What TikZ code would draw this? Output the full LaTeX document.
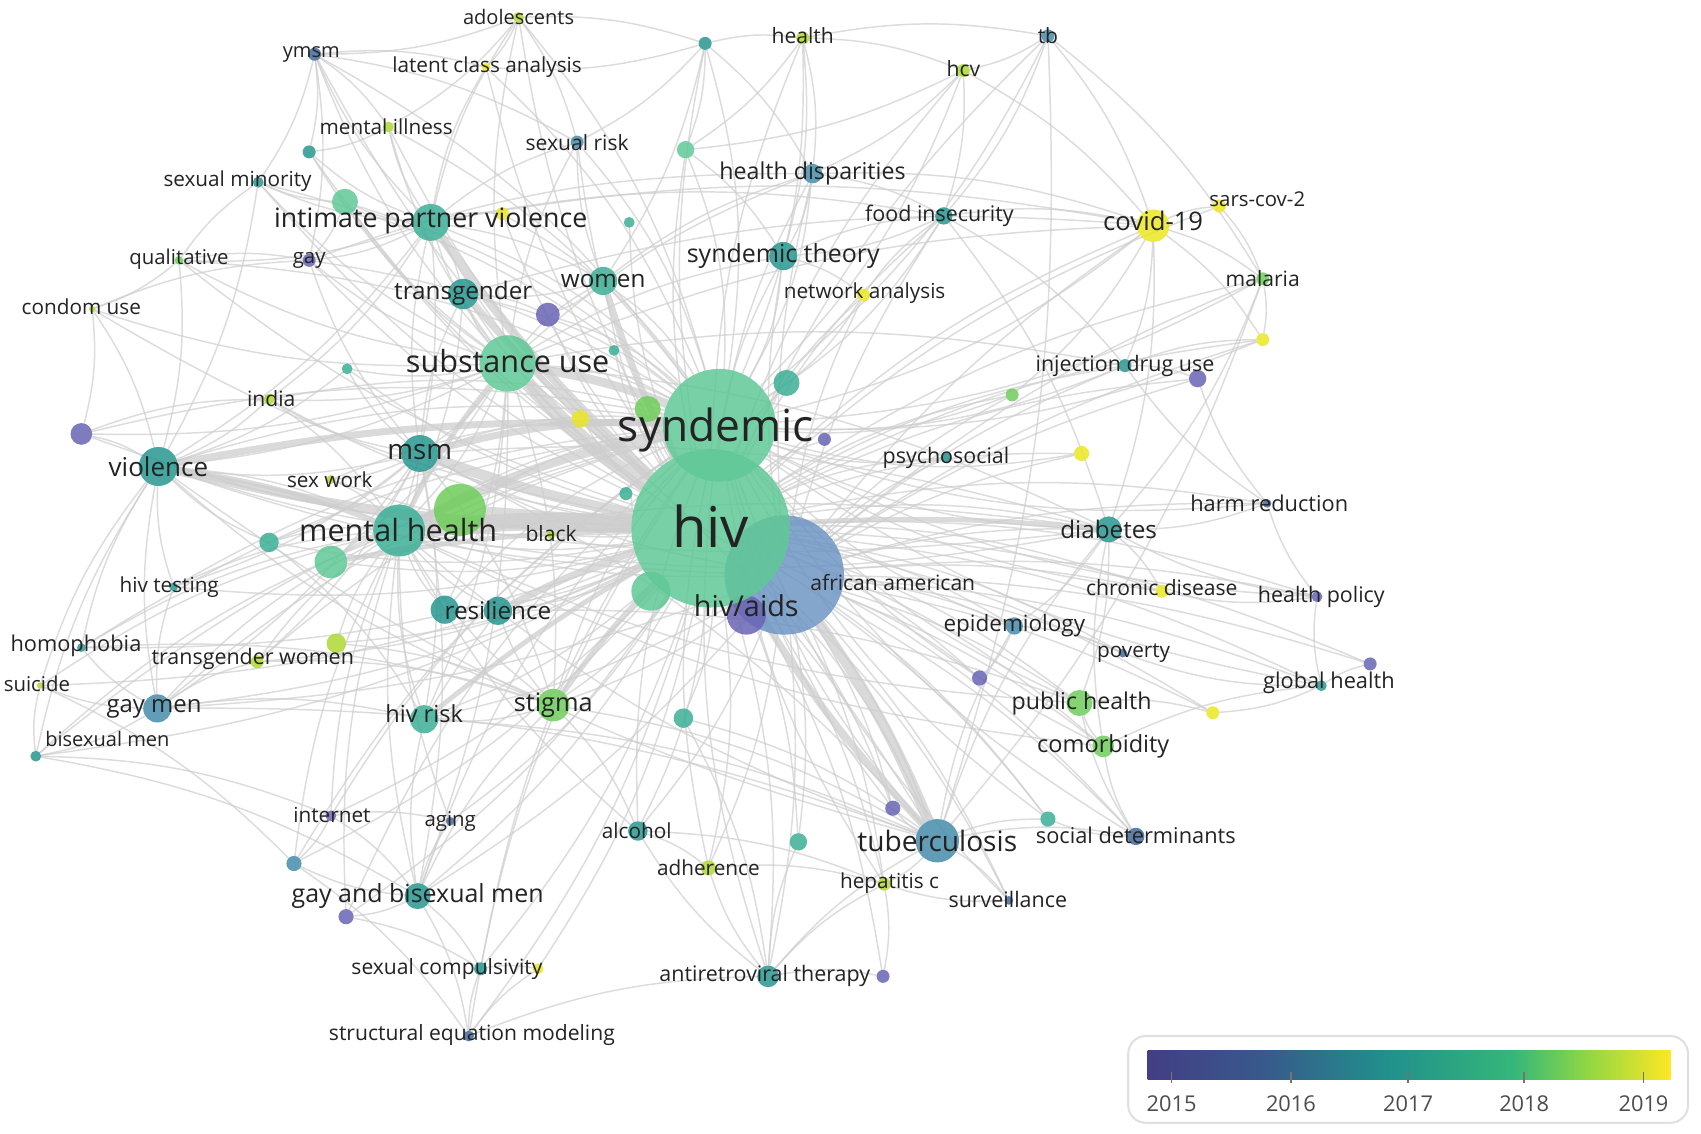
\documentclass[tikz,border=0pt]{standalone}
\usepackage{fontspec}
\setmainfont{Open Sans}
\usetikzlibrary{backgrounds}
\definecolor{yA}{RGB}{105,100,180}
\definecolor{yB}{RGB}{65,105,155}
\definecolor{yC}{RGB}{70,140,170}
\definecolor{yD}{RGB}{40,150,145}
\definecolor{yE}{RGB}{60,175,150}
\definecolor{yF}{RGB}{95,200,150}
\definecolor{yG}{RGB}{110,205,90}
\definecolor{yH}{RGB}{175,215,50}
\definecolor{yI}{RGB}{235,230,35}
\definecolor{hivblue}{RGB}{110,150,195}
\definecolor{edgec}{RGB}{205,205,205}
\definecolor{txt}{RGB}{35,35,35}
\definecolor{v1}{HTML}{433E85}
\definecolor{v2}{HTML}{38598C}
\definecolor{v3}{HTML}{21918C}
\definecolor{v4}{HTML}{35B779}
\definecolor{v5}{HTML}{90D743}
\definecolor{v6}{HTML}{FDE725}
\pgfdeclarehorizontalshading{viridisbar}{100bp}{color(0bp)=(v1); color(25bp)=(v1); color(36bp)=(v2); color(48bp)=(v3); color(60bp)=(v4); color(67bp)=(v5); color(75bp)=(v6); color(100bp)=(v6)}
\newcommand\kw[5]{\node[bub, fill=#5, minimum size=#4*0.21696mm] (#1) at (#2,#3) {};}
\newcommand\kl[5]{\node[lab, font=\fontsize{#5}{#5}\selectfont] (t#1) at (#2,#3) {#4};}
\tikzset{
  bub/.style={circle, inner sep=0pt, outer sep=0pt, fill opacity=0.85, draw=none},
  lab/.style={inner sep=0pt, text=txt},
  edge/.style={draw=edgec, line width=0.42pt, opacity=0.7},
  bundle/.style={draw=edgec, opacity=0.75},
  yr/.style={font=\fontsize{6.2}{6.2}\selectfont, text=black!70, inner sep=0pt}
}
\begin{document}
\begin{tikzpicture}[x=0.010848cm, y=-0.010848cm]
\useasboundingbox (0,0) rectangle (1568,1045);
% ---------- keyword circles ----------
\kw{adol}{478}{16}{5}{yH}
\kw{youth}{290}{50}{6}{yB}
\kw{lca}{448}{62}{4}{yI}
\kw{n4}{650}{40}{6}{yD}
\kw{health}{740}{35}{6}{yH}
\kw{tb}{966}{33}{6}{yC}
\kw{hcv}{888}{65}{6}{yH}
\kw{mill}{358}{117}{5}{yH}
\kw{n9}{285}{140}{6}{yD}
\kw{srisk}{532}{131}{6}{yC}
\kw{n11}{632}{138}{8}{yF}
\kw{smin}{238}{168}{5}{yD}
\kw{hdisp}{749}{160}{9}{yC}
\kw{n14}{318}{186}{12}{yF}
\kw{ipv}{397}{205}{17}{yE}
\kw{n16}{463}{197}{6}{yI}
\kw{n17}{580}{205}{5}{yE}
\kw{food}{870}{199}{8}{yD}
\kw{covid}{1063}{208}{15}{yI}
\kw{sars}{1124}{190}{6}{yI}
\kw{qual}{165}{240}{4}{yG}
\kw{gay}{285}{240}{6}{yA}
\kw{sth}{722}{236}{13}{yD}
\kw{malaria}{1164}{257}{6}{yG}
\kw{condom}{85}{285}{3}{yH}
\kw{trans}{427}{271}{14}{yD}
\kw{women}{556}{259}{13}{yE}
\kw{n28}{505}{290}{11}{yA}
\kw{netan}{796}{272}{6}{yI}
\kw{n30}{1164}{313}{6}{yI}
\kw{subst}{468}{335}{26}{yF}
\kw{n32}{566}{323}{5}{yE}
\kw{n33}{320}{340}{5}{yE}
\kw{idu}{1037}{337}{6}{yD}
\kw{n35}{1104}{349}{8}{yA}
\kw{india}{248}{368}{5}{yH}
\kw{n37}{725}{353}{12}{yE}
\kw{n38}{933}{364}{6}{yG}
\kw{n43}{535}{386}{8}{yI}
\kw{n44}{597}{377}{12}{yG}
\kw{n45}{760}{405}{6}{yA}
\kw{hivaids}{723}{530}{55}{hivblue}
\kw{hapurp}{688}{567}{18}{yA}
\kw{n42}{600}{545}{18}{yF}
\kw{synd}{663}{392}{52}{yF}
\kw{hiv}{655}{487}{73}{yF}
\kw{viol}{146}{430}{18}{yD}
\kw{n47}{75}{400}{10}{yA}
\kw{msm}{387}{418}{17}{yD}
\kw{sexwork}{305}{442}{4}{yH}
\kw{psych}{872}{422}{5}{yD}
\kw{n51}{997}{418}{7}{yI}
\kw{n52}{577}{455}{6}{yE}
\kw{n54}{424}{470}{24}{yG}
\kw{mh}{368}{489}{24}{yE}
\kw{black}{508}{493}{4}{yH}
\kw{diab}{1022}{488}{12}{yD}
\kw{harm}{1168}{464}{4}{yB}
\kw{n58}{248}{500}{9}{yE}
\kw{n59}{305}{518}{15}{yF}
\kw{hivtest}{160}{541}{4}{yD}
\kw{chronic}{1071}{545}{6}{yI}
\kw{hpol}{1214}{550}{5}{yA}
\kw{resila}{410}{562}{13}{yD}
\kw{resilb}{459}{563}{13}{yD}
\kw{epid}{935}{577}{8}{yC}
\kw{poverty}{1035}{602}{4}{yB}
\kw{n67}{903}{625}{7}{yA}
\kw{n68}{1263}{612}{6}{yA}
\kw{ghealth}{1218}{632}{5}{yD}
\kw{homoph}{75}{597}{4}{yD}
\kw{tw}{237}{610}{6}{yH}
\kw{n71}{310}{593}{9}{yH}
\kw{suicide}{37}{632}{3}{yH}
\kw{gaymen}{145}{653}{13}{yC}
\kw{hivrisk}{391}{663}{13}{yE}
\kw{stigma}{510}{650}{15}{yG}
\kw{n76}{630}{662}{9}{yE}
\kw{phealth}{995}{648}{12}{yG}
\kw{n78}{1118}{657}{6}{yI}
\kw{comorb}{1017}{688}{10}{yG}
\kw{bimen}{33}{697}{5}{yD}
\kw{internet}{305}{752}{5}{yA}
\kw{aging}{415}{757}{4}{yB}
\kw{n83}{271}{796}{7}{yC}
\kw{alcohol}{588}{766}{9}{yD}
\kw{n85}{736}{776}{8}{yE}
\kw{n86}{823}{745}{7}{yA}
\kw{tuber}{864}{775}{20}{yC}
\kw{n88}{966}{755}{7}{yE}
\kw{sdet}{1047}{771}{8}{yB}
\kw{adher}{653}{800}{7}{yH}
\kw{hepc}{815}{815}{6}{yH}
\kw{surv}{930}{830}{4}{yB}
\kw{gbm}{385}{826}{12}{yD}
\kw{n94}{319}{845}{7}{yA}
\kw{sexcomp}{443}{893}{6}{yD}
\kw{n95b}{496}{893}{5}{yI}
\kw{art}{708}{900}{10}{yD}
\kw{n96b}{814}{900}{6}{yA}
\kw{sem}{432}{955}{5}{yB}
% ---------- connectors ----------
\begin{scope}[on background layer]
\foreach \n in {adol,youth,lca,n4,health,tb,hcv,mill,n9,srisk,n11,smin,hdisp,n14,ipv,n16,n17,food,covid,sars,qual,gay,sth,malaria,condom,trans,women,n28,netan,n30,subst,n32,n33,idu,n35,india,n37,n38,n43,n44,n45,viol,n47,msm,sexwork,psych,n51,n52,mh,n54,black,diab,harm,n58,n59,hivtest,chronic,hpol,resila,resilb,epid,poverty,n67,n68,ghealth,homoph,tw,n71,suicide,gaymen,hivrisk,stigma,n76,phealth,n78,comorb,bimen,internet,aging,n83,alcohol,n85,n86,tuber,n88,sdet,adher,hepc,surv,gbm,n94,sexcomp,n95b,art,n96b,sem}
  \draw[edge] (hiv) to[bend left=10] (\n);
\foreach \n in {youth,adol,lca,n4,health,tb,hcv,mill,srisk,n11,smin,hdisp,n14,ipv,n16,food,covid,qual,gay,sth,trans,women,n28,netan,subst,idu,india,n37,viol,n47,msm,sexwork,psych,mh,n54,diab,hivtest,resila,epid,gaymen,hivrisk,stigma,phealth,comorb,internet,alcohol,tuber,sdet,adher,gbm,sexcomp,art,sem,homoph,bimen,tw,malaria,n30,harm,chronic,hpol,ghealth,n38,n51,n88,n86,hepc,surv,n83,n94}
  \draw[edge] (synd) to[bend right=12] (\n);
\foreach \n in {diab,epid,phealth,comorb,tuber,sdet,surv,hepc,art,n86,n88,poverty,n67,chronic,hpol,ghealth,harm,idu,psych,n51,covid,food,hdisp,sth,n38,stigma,alcohol,adher,n85,n68,n78,malaria,n35,n30,netan,mh,msm,subst,viol,gaymen,hivrisk,gbm}
  \draw[edge] (hivaids) to[bend left=8] (\n);
\foreach \n in {ipv,trans,women,mh,msm,viol,youth,mill,srisk,n14,gay,smin,india,n33,resila,hivrisk,stigma,gbm,n59,qual,hdisp,sth,idu,n47,condom,covid,diab,tuber,n9,adol}
  \draw[edge] (subst) to[bend left=10] (\n);
\foreach \n in {msm,viol,ipv,trans,n59,n58,resila,resilb,hivrisk,stigma,gaymen,tw,hivtest,gbm,internet,aging,n83,homoph,suicide,sexwork,india,bimen,n71,n94,diab,tuber,phealth,comorb,alcohol}
  \draw[edge] (mh) to[bend right=10] (\n);
\foreach \n in {viol,ipv,trans,gay,india,sexwork,gaymen,hivrisk,stigma,n59,n58,tw,hivtest,gbm,n33,tuber,diab}
  \draw[edge] (msm) to[bend left=10] (\n);
\foreach \n in {trans,women,youth,mill,smin,qual,n14,gay,n9,viol,india,n16,srisk,adol,lca,covid,food}
  \draw[edge] (ipv) to[bend left=10] (\n);
\foreach \n in {n47,india,n58,gaymen,hivtest,homoph,n33,condom,qual,suicide,bimen,smin,diab,tuber,stigma}
  \draw[edge] (viol) to[bend right=10] (\n);
\foreach \a/\b in {youth/mill,youth/gay,youth/smin,youth/lca,youth/n9,youth/srisk,adol/lca,adol/n4,adol/mill,adol/srisk,adol/youth,
  n4/health,n4/srisk,n4/n11,n4/hdisp,n4/women,n4/lca,health/hdisp,health/n11,health/sth,health/hcv,health/tb,
  tb/hcv,tb/covid,tb/food,tb/malaria,tb/tuber,hcv/food,hcv/covid,hcv/hdisp,hcv/n11,hdisp/sth,hdisp/food,hdisp/covid,
  food/covid,food/diab,food/idu,food/sth,covid/sars,covid/malaria,covid/diab,covid/n30,covid/idu,covid/n38,sars/malaria,
  malaria/n30,malaria/tuber,malaria/diab,qual/gay,qual/condom,qual/smin,condom/n47,condom/gay,n47/india,
  gaymen/homoph,gaymen/suicide,gaymen/bimen,gaymen/tw,gaymen/hivtest,gaymen/hivrisk,bimen/internet,bimen/suicide,
  internet/n83,internet/gbm,internet/aging,gbm/sexcomp,gbm/sem,gbm/n94,gbm/aging,gbm/n83,gbm/stigma,gbm/hivrisk,
  sem/sexcomp,sem/n95b,sem/art,sexcomp/n95b,art/adher,art/hepc,art/n96b,art/tuber,art/alcohol,art/n85,
  tuber/hepc,tuber/surv,tuber/n86,tuber/n88,tuber/sdet,tuber/diab,tuber/epid,sdet/comorb,sdet/phealth,sdet/n88,
  comorb/phealth,comorb/diab,comorb/ghealth,ghealth/hpol,ghealth/n68,ghealth/n78,ghealth/poverty,hpol/harm,hpol/diab,
  hpol/chronic,harm/idu,harm/diab,harm/n35,idu/n35,idu/n30,diab/chronic,diab/epid,diab/phealth,epid/poverty,epid/n67,
  phealth/n78,stigma/hivrisk,stigma/resilb,stigma/alcohol,alcohol/adher,adher/hepc,hepc/n96b,surv/hepc,
  n14/smin,n14/gay,mill/n9,sth/netan,sth/food,netan/food,women/n28,women/trans,trans/n28,women/srisk,n11/sth,
  gaymen/tuber,stigma/tuber,hivrisk/tuber,resilb/phealth,n59/diab,trans/covid,women/hdisp,gay/hdisp,tw/stigma,
  n58/hivrisk,n71/stigma,homoph/stigma,suicide/n83,bimen/gbm,n83/sem,n94/sexcomp,alcohol/hepc,n76/tuber,n76/art}
  \draw[edge] (\a) to[bend left=10] (\b);
% heavy bundles
\draw[bundle, line width=5pt] (hiv) to[bend right=4] (mh);
\draw[bundle, line width=4pt] (hiv) to[bend left=6] (subst);
\draw[bundle, line width=3pt] (hiv) to[bend left=4] (msm);
\draw[bundle, line width=2.5pt] (hiv) to[bend left=6] (viol);
\draw[bundle, line width=2.5pt] (hiv) to[bend left=6] (ipv);
\draw[bundle, line width=3pt] (hiv) to (n54);
\draw[bundle, line width=2.5pt] (synd) to[bend right=6] (subst);
\draw[bundle, line width=2.5pt] (synd) to[bend right=8] (mh);
\draw[bundle, line width=2pt] (synd) to[bend right=8] (msm);
\draw[bundle, line width=2pt] (synd) to[bend right=6] (viol);
\draw[bundle, line width=3pt] (hivaids) to[bend left=6] (tuber);
\draw[bundle, line width=2pt] (hiv) to[bend right=6] (tuber);
\draw[bundle, line width=2pt] (hiv) to[bend right=4] (resilb);
\draw[bundle, line width=1.6pt] (hiv) to[bend right=4] (stigma);
\draw[bundle, line width=1.6pt] (hiv) to[bend left=4] (trans);
\draw[bundle, line width=1.6pt] (hiv) to[bend left=4] (women);
\draw[bundle, line width=1.4pt] (hiv) to[bend left=4] (diab);
\draw[bundle, line width=1.4pt] (hiv) to[bend right=4] (hivrisk);
\draw[bundle, line width=1.4pt] (hiv) to[bend right=4] (n59);
\draw[bundle, line width=1.4pt] (mh) to[bend right=6] (viol);
\draw[bundle, line width=1.4pt] (subst) to[bend right=6] (mh);
\end{scope}
% ---------- labels ----------
\kl{adol}{478}{16}{adolescents}{5.7}
\kl{youth}{287}{50}{ymsm}{5.7}
\kl{lca}{449}{62}{latent class analysis}{5.9}
\kl{health}{740}{33}{health}{6}
\kl{tb}{966}{33}{tb}{6}
\kl{hcv}{888}{63}{hcv}{6}
\kl{mill}{356}{117}{mental illness}{5.9}
\kl{srisk}{532}{131}{sexual risk}{6}
\kl{smin}{219}{167}{sexual minority}{5.9}
\kl{hdisp}{749}{160}{health disparities}{6.6}
\kl{ipv}{397}{203}{intimate partner violence}{7.6}
\kl{food}{866}{199}{food insecurity}{6.1}
\kl{covid}{1063}{204}{covid-19}{7.3}
\kl{sars}{1159}{184}{sars-cov-2}{5.8}
\kl{qual}{165}{239}{qualitative}{5.8}
\kl{gay}{285}{240}{gay}{5.8}
\kl{sth}{722}{236}{syndemic theory}{7.1}
\kl{malaria}{1164}{257}{malaria}{6}
\kl{condom}{75}{283}{condom use}{5.9}
\kl{trans}{427}{270}{transgender}{6.9}
\kl{women}{556}{259}{women}{6.9}
\kl{netan}{797}{270}{network analysis}{5.9}
\kl{subst}{468}{333}{substance use}{8.7}
\kl{idu}{1037}{337}{injection drug use}{6.1}
\kl{india}{250}{367}{india}{6}
\kl{synd}{660}{396}{syndemic}{12.6}
\kl{hiv}{655}{485}{hiv}{16}
\kl{hivaids}{688}{558}{hiv/aids}{8.2}
\kl{viol}{146}{430}{violence}{7.4}
\kl{msm}{387}{417}{msm}{7.9}
\kl{sexwork}{304}{442}{sex work}{5.9}
\kl{psych}{872}{422}{psychosocial}{6.1}
\kl{mh}{367}{489}{mental health}{8.7}
\kl{black}{508}{492}{black}{6}
\kl{diab}{1022}{488}{diabetes}{6.9}
\kl{harm}{1170}{464}{harm reduction}{6.2}
\kl{hivtest}{156}{541}{hiv testing}{5.9}
\kl{afam}{823}{537}{african american}{6}
\kl{chronic}{1071}{542}{chronic disease}{6}
\kl{hpol}{1218}{550}{health policy}{6.1}
\kl{resil}{459}{563}{resilience}{6.9}
\kl{epid}{935}{577}{epidemiology}{6.4}
\kl{poverty}{1045}{602}{poverty}{5.9}
\kl{ghealth}{1225}{629}{global health}{6.2}
\kl{homoph}{70}{595}{homophobia}{6.2}
\kl{tw}{233}{607}{transgender women}{6.1}
\kl{suicide}{34}{630}{suicide}{5.8}
\kl{gaymen}{142}{653}{gay men}{6.8}
\kl{hivrisk}{391}{658}{hiv risk}{6.7}
\kl{stigma}{510}{650}{stigma}{7.2}
\kl{phealth}{997}{648}{public health}{6.6}
\kl{comorb}{1017}{688}{comorbidity}{6.7}
\kl{bimen}{99}{681}{bisexual men}{5.7}
\kl{internet}{306}{751}{internet}{5.9}
\kl{aging}{415}{757}{aging}{5.8}
\kl{alcohol}{587}{766}{alcohol}{5.9}
\kl{tuber}{864}{775}{tuberculosis}{8}
\kl{sdet}{1047}{770}{social determinants}{6.2}
\kl{adher}{653}{800}{adherence}{5.9}
\kl{hepc}{820}{814}{hepatitis c}{5.9}
\kl{surv}{929}{829}{surveillance}{6.1}
\kl{gbm}{385}{826}{gay and bisexual men}{7.1}
\kl{sexcomp}{412}{893}{sexual compulsivity}{6}
\kl{art}{705}{900}{antiretroviral therapy}{6.1}
\kl{sem}{435}{954}{structural equation modeling}{6}
% ---------- colour scale ----------
\draw[black!12, line width=0.6pt, rounded corners=5pt] (1040,955) rectangle (1556,1035);
\shade[shading=viridisbar] (1058,968) rectangle (1540,995);
\foreach \x/\yv in {1080/2015,1190/2016,1298/2017,1405/2018,1515/2019}{
  \draw[black!55, line width=0.5pt] (\x,988) -- (\x,998);
  \node[yr] (yr\yv) at (\x,1017) {\yv};
}
\end{tikzpicture}
\end{document}
